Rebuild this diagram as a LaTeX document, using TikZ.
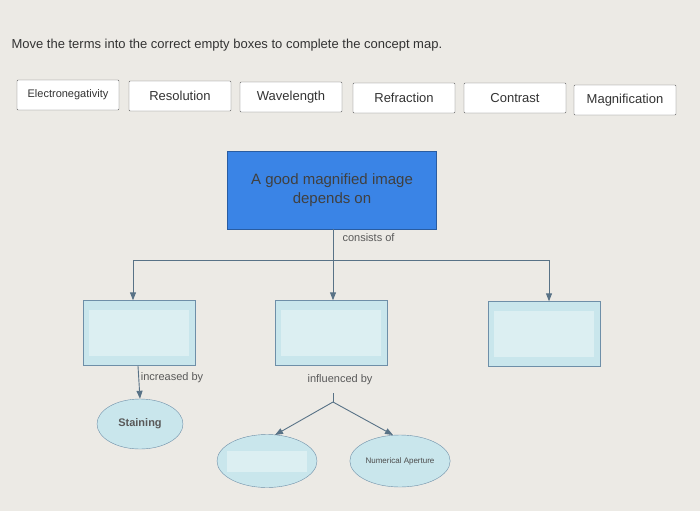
\documentclass[tikz,border=0pt]{standalone}
\usepackage{fontspec}
\setmainfont{Liberation Sans}
\usetikzlibrary{arrows.meta,shapes.geometric}
\definecolor{bg}{HTML}{ECEAE5}
\definecolor{cyanf}{HTML}{C9E6EC}
\definecolor{cyanl}{HTML}{DCEFF2}
\definecolor{edge}{HTML}{6E8FA8}
\definecolor{blu}{HTML}{3A84E6}
\tikzset{x=1pt,y=-1pt,
 term/.style={draw=gray!80!black,fill=white,rounded corners=1pt,minimum width=102pt,minimum height=30pt,font=\fontsize{13}{15}\selectfont,text=black!80},
 emptybox/.style={draw=edge,fill=cyanf,minimum width=112pt,minimum height=65pt},
 oval/.style={ellipse,draw=edge,fill=cyanf},
 lab/.style={font=\fontsize{11}{13}\selectfont,text=black!65},
 con/.style={draw=edge!80!black,line width=0.9pt},
 arr/.style={con,-{Triangle[length=8pt,width=6pt]}}}
\begin{document}
\begin{tikzpicture}
\fill[bg] (0,0) rectangle (700,511);
\useasboundingbox (0,0) rectangle (700,511);
\node[anchor=west,font=\fontsize{13}{15}\selectfont,text=black!80] (title) at (8,45) {Move the terms into the correct empty boxes to complete the concept map.};
\node[term,font=\fontsize{11}{13}\selectfont] (t1) at (68,95) {Electronegativity};
\node[term] (t2) at (180,96) {Resolution};
\node[term] (t3) at (291,97) {Wavelength};
\node[term] (t4) at (404,98) {Refraction};
\node[term] (t5) at (515,98) {Contrast};
\node[term] (t6) at (625,100) {Magnification};
\node[draw=blu!70!black,fill=blu,minimum width=209pt,minimum height=78pt,align=center,text=black!75,font=\fontsize{15}{19}\selectfont] (top) at (332,190) {A good magnified image\\depends on};
\node[emptybox] (b1) at (139,333) {};
\node[emptybox] (b2) at (331,333) {};
\node[emptybox] (b3) at (544,334) {};
\foreach \b in {b1,b2,b3}{\fill[cyanl] ([shift={(6,-10)}]\b.south west) rectangle ([shift={(-6,10)}]\b.north east);}
\coordinate (j) at (333,260);
\coordinate (jl) at (133,260);
\coordinate (jr) at (549,260);
\draw[con] (top.south -| j) -- (j);
\draw[con] (jl) -- (jr);
\draw[arr] (jl) -- (jl |- b1.north);
\draw[arr] (j) -- (j |- b2.north);
\draw[arr] (jr) -- (jr |- b3.north);
\node[lab,anchor=west] (c) at (339,238) {consists of};
\node[oval,minimum width=86pt,minimum height=50pt,font=\bfseries\fontsize{11}{13}\selectfont,text=black!65] (st) at (140,424) {Staining};
\node[oval,minimum width=100pt,minimum height=53pt] (e1) at (267,461) {};
\fill[cyanl] (227,451) rectangle (307,472);
\node[oval,minimum width=98pt,minimum height=52pt,inner sep=1pt,font=\fontsize{8}{10}\selectfont,text=black!70] (e2) at (400,461) {Numerical Aperture};
\node[lab] (ib) at (172,378) {increased by};
\node[lab] (fb) at (340,380) {influenced by};
\coordinate (s0) at (138,366);
\draw[arr] (s0) -- (st.north);
\coordinate (k) at (333,402);
\coordinate (k0) at (333,393);
\coordinate (a1) at (275,435);
\coordinate (a2) at (393,435);
\draw[con] (k0) -- (k);
\draw[arr] (k) -- (a1);
\draw[arr] (k) -- (a2);
\end{tikzpicture}
\end{document}
